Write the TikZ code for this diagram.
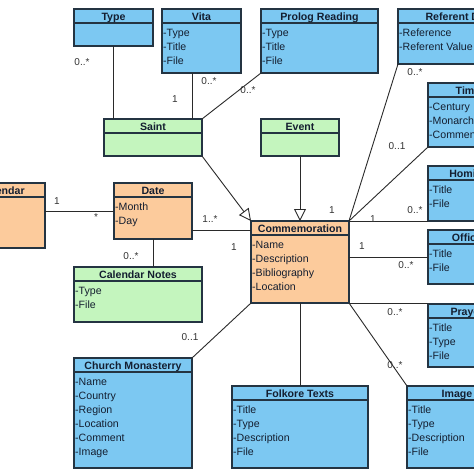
\documentclass[tikz,border=0pt]{standalone}
\usepackage{fontspec}
\setmainfont{Liberation Sans}
\usetikzlibrary{arrows.meta,calc}
\definecolor{cblue}{HTML}{7CC8F2}
\definecolor{cgreen}{HTML}{C4F5BE}
\definecolor{corange}{HTML}{FCCB9C}
\definecolor{cborder}{HTML}{243442}
\definecolor{ctext}{HTML}{141E30}
\definecolor{cline}{HTML}{2A2A2A}
\definecolor{clabel}{HTML}{333333}
\tikzset{
 cbox/.style={draw=cborder, line width=1.2pt, rectangle, inner sep=0pt, outer sep=0pt},
 hline/.style={draw=cborder, line width=1.2pt},
 ctitle/.style={font=\fontsize{10.6}{12}\selectfont\bfseries, text=ctext, inner sep=0pt, anchor=base},
 cattr/.style={font=\fontsize{10.6}{12}\selectfont, text=ctext, inner sep=0pt, anchor=base west},
 conn/.style={draw=cline, line width=0.9pt},
 gen/.style={conn, -{Triangle[open, length=12pt, width=12pt, line width=0.9pt]}},
 mult/.style={font=\fontsize{10}{12}\selectfont, text=clabel, inner sep=0pt},
}
\newcommand{\uclass}[8]{%
 \node[cbox, fill=#6, minimum width=#4pt, minimum height=#5pt, anchor=north west] (#1) at (#2,#3) {};
 \draw[hline] ([yshift=-14pt]#1.north west) -- ([yshift=-14pt]#1.north east);
 \node[ctitle] (#1-t) at ([yshift=-11pt]#1.north) {#7};
 \foreach \a [count=\i] in {#8} {\node[cattr] (#1-a\i) at ([xshift=1pt,yshift={-27pt-(\i-1)*14pt}]#1.north west) {\a};}
}
\begin{document}
\begin{tikzpicture}[x=1pt,y=-1pt]
\useasboundingbox (0,0) rectangle (474,474);
\fill[white] (0,0) rectangle (474,474);
\clip (0,0) rectangle (474,474);
% classes
\uclass{type}{74}{9}{79}{37}{cblue}{Type}{}
\uclass{vita}{162}{9}{79}{64}{cblue}{Vita}{-Type,-Title,-File}
\uclass{prolog}{261}{9}{117}{64}{cblue}{Prolog Reading}{-Type,-Title,-File}
\uclass{refd}{398}{9}{124}{55}{cblue}{Referent Data}{-Reference,-Referent Value}
\uclass{saint}{104}{119}{98}{37}{cgreen}{Saint}{}
\uclass{event}{261}{119}{78}{37}{cgreen}{Event}{}
\uclass{time}{428}{83}{80}{64}{cblue}{Time}{-Century,-Monarch,-Comment}
\uclass{calendar}{-41}{183}{86}{65}{corange}{Calendar}{}
\uclass{date}{114}{183}{78}{56}{corange}{Date}{-Month,-Day}
\uclass{homily}{428}{166}{78}{55}{cblue}{Homily}{-Title,-File}
\uclass{com}{251}{221}{98}{82}{corange}{Commemoration}{-Name,-Description,-Bibliography,-Location}
\uclass{office}{428}{230}{78}{54}{cblue}{Office}{-Title,-File}
\uclass{calnotes}{74}{267}{128}{55}{cgreen}{Calendar Notes}{-Type,-File}
\uclass{prayer}{428}{304}{78}{63}{cblue}{Prayer}{-Title,-Type,-File}
\uclass{church}{74}{358}{118}{110}{cblue}{Church Monasterry}{-Name,-Country,-Region,-Location,-Comment,-Image}
\uclass{folk}{232}{386}{136}{82}{cblue}{Folkore Texts}{-Title,-Type,-Description,-File}
\uclass{image}{407}{386}{100}{82}{cblue}{Image}{-Title,-Type,-Description,-File}
% connectors
\coordinate (vitaP) at ([xshift=30pt]vita.south west);
\coordinate (dateE) at ([yshift=9pt]date.south east);
\draw[conn] (type.south) -- (type.south |- saint.north);
\draw[conn] (vitaP) -- (vitaP |- saint.north);
\draw[conn] (saint.north east) -- (prolog.south west);
\draw[gen] (saint.south east) -- (com.north west);
\draw[gen] (event.south) -- (com.north);
\draw[conn] (date.west) -- (date.west -| calendar.east);
\draw[conn] (dateE) -- (dateE -| com.west);
\draw[conn] (date.south) -- (date.south |- calnotes.north);
\draw[conn] (com.south west) -- (church.north east);
\draw[conn] (com.south) -- (com.south |- folk.north);
\draw[conn] (com.south east) -- (image.north west);
\draw[conn] (com.south east) -- (com.south east -| prayer.west);
\draw[conn] (office.west) -- (office.west -| com.east);
\draw[conn] (com.north east) -- (homily.south west);
\draw[conn] (com.north east) -- (time.south west);
\draw[conn] (com.north east) -- (refd.south west);
% multiplicities
\node[mult] (m1) at (82,62) {0..*};
\node[mult] (m2) at (175,99) {1};
\node[mult] (m3) at (209,81) {0..*};
\node[mult] (m4) at (248,90) {0..*};
\node[mult] (m5) at (415,72) {0..*};
\node[mult] (m6) at (397,146) {0..1};
\node[mult] (m7) at (57,201) {1};
\node[mult] (m8) at (96,217) {*};
\node[mult] (m9) at (210,219) {1..*};
\node[mult] (m10) at (234,247) {1};
\node[mult] (m11) at (131,256) {0..*};
\node[mult] (m12) at (190,337) {0..1};
\node[mult] (m13) at (332,210) {1};
\node[mult] (m14) at (373,219) {1};
\node[mult] (m15) at (415,210) {0..*};
\node[mult] (m16) at (362,246) {1};
\node[mult] (m17) at (406,265) {0..*};
\node[mult] (m18) at (395,312) {0..*};
\node[mult] (m19) at (395,365) {0..*};
\end{tikzpicture}
\end{document}
